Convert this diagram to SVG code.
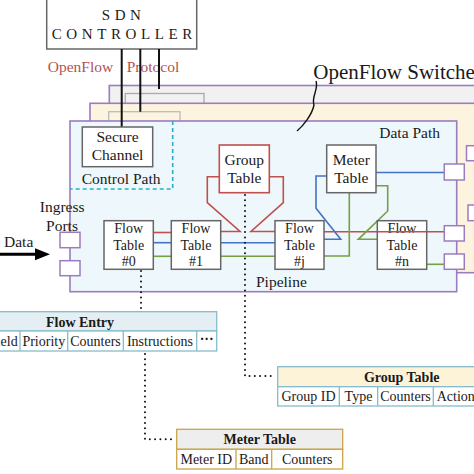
<svg xmlns="http://www.w3.org/2000/svg" width="474" height="474" viewBox="0 0 474 474">
<defs>
<style>
text{font-family:"Liberation Serif","Times New Roman",serif;fill:#1a1a1a}
.lbl{font-size:15.5px}
.ft{font-size:14px}
.tb{font-size:14px}
.b{font-weight:bold}
.mid{text-anchor:middle}
.layer{stroke:#9a7cbf;stroke-width:1.6}
.box{fill:#fff;stroke:#666;stroke-width:1.5}
.port{fill:#fff;stroke:#9a7cbf;stroke-width:1.5}
.red{fill:none;stroke:#c0504d;stroke-width:1.6}
.blue{fill:none;stroke:#4472c4;stroke-width:1.6}
.green{fill:none;stroke:#77a043;stroke-width:1.6}
.dot{fill:none;stroke:#111;stroke-width:2;stroke-dasharray:0 5.3;stroke-linecap:round}
.ctl{stroke:#111;stroke-width:2}
</style>
</defs>
<rect width="474" height="474" fill="#fff"/>

<g id="switch-back">
<rect class="layer" x="109.3" y="85.5" width="400" height="170" fill="#f1f1f1"/>
<rect x="125.3" y="93.5" width="78.7" height="30" fill="none" stroke="#aaa" stroke-width="1.3"/>
</g>
<g id="switch-mid">
<rect class="layer" x="90" y="103.3" width="387" height="169.4" fill="#fdf4e0"/>
<rect x="108.7" y="111.7" width="71.3" height="30" fill="none" stroke="#bbb" stroke-width="1.3"/>
<rect class="port" x="466.5" y="145.7" width="20" height="15"/>
<rect class="port" x="468" y="205" width="20" height="15.7"/>
</g>
<g id="switch-front">
<rect class="layer" x="70" y="121" width="386.7" height="170.7" fill="#eef7fb"/>
<path d="M172.7,121 V189 H70" fill="none" stroke="#2aaecb" stroke-width="1.6" stroke-dasharray="4 3"/>
<text class="lbl" x="81.7" y="184.2">Control Path</text>
<text class="lbl" x="379.3" y="137.5">Data Path</text>
<text class="lbl" x="256" y="287">Pipeline</text>
</g>

<g id="sdn-controller">
<rect x="46.7" y="-1" width="150" height="50" fill="#fff" stroke="#666" stroke-width="1.5"/>
<text x="101.7" y="20" style="font-size:15px;letter-spacing:4.6px">SDN</text>
<text x="51.7" y="38.5" style="font-size:15px;letter-spacing:4.6px">CONTROLLER</text>
</g>
<text class="lbl" x="47.7" y="71.5" style="fill:#b5524e">OpenFlow</text>
<text class="lbl" x="126.7" y="71.5" style="fill:#b5524e">Protocol</text>

<g id="switches-label">
<text x="313.3" y="79" style="font-size:21px">OpenFlow Switches</text>
<path d="M316,81 C319,89 311,97 314,105 C312,115 303,126 297,131" fill="none" stroke="#111" stroke-width="1.4"/>
</g>

<g id="connectors">
<line class="ctl" x1="121.7" y1="49" x2="121.7" y2="127"/>
<line class="ctl" x1="140.3" y1="49" x2="140.3" y2="111.7"/>
<line class="ctl" x1="159" y1="49" x2="159" y2="89"/>
<!-- red -->
<line class="red" x1="153.3" y1="232.5" x2="171.3" y2="232.5"/>
<path class="red" d="M220.7,231.5 H240 L207.3,202.7 V176.7 H219.3"/>
<path class="red" d="M269.3,176.7 H283.3 V202.7 L251,231.5 H275"/>
<path class="red" d="M324,231.7 H444.3"/>
<!-- blue -->
<line class="blue" x1="153.3" y1="242.7" x2="171.3" y2="242.7"/>
<line class="blue" x1="220.7" y1="242.7" x2="275" y2="242.7"/>
<path class="blue" d="M324,239.3 H340.7 L316,208.3 V176 H326.7"/>
<line class="blue" x1="376" y1="172.5" x2="444.3" y2="172.5"/>
<!-- green -->
<line class="green" x1="153.3" y1="256.3" x2="171.3" y2="256.3"/>
<line class="green" x1="220.7" y1="256.3" x2="275" y2="256.3"/>
<path class="green" d="M324,256 H349.3 V192.7"/>
<path class="green" d="M376,185.7 H387.7 V211 L358.3,239.3 H377.3"/>
<line class="green" x1="426.7" y1="264.3" x2="444.3" y2="264.3"/>
<!-- data arrow -->
<line x1="0" y1="254.3" x2="38" y2="254.3" stroke="#000" stroke-width="3"/>
<polygon points="35,248.3 50,254.3 35,260.3" fill="#000"/>
<!-- dotted -->
<path class="dot" d="M141,271 V311"/>
<path class="dot" d="M145,354 V439.3 H175"/>
<path class="dot" d="M245,195 V376 H276"/>
</g>

<g id="secure-channel">
<rect class="box" x="82.3" y="127" width="70.4" height="39.7"/>
<text class="lbl mid" x="117.5" y="142.2">Secure</text>
<text class="lbl mid" x="117.5" y="160.2">Channel</text>
</g>
<g id="group-table">
<rect x="219.3" y="145" width="50" height="47.7" fill="#fff" stroke="#c0504d" stroke-width="1.6"/>
<text class="lbl mid" x="244.3" y="165.2">Group</text>
<text class="lbl mid" x="244.3" y="183.2">Table</text>
</g>
<g id="meter-table">
<rect class="box" x="326.7" y="145" width="49.3" height="47.7"/>
<text class="lbl mid" x="351.3" y="165.2">Meter</text>
<text class="lbl mid" x="351.3" y="183.2">Table</text>
</g>
<g id="flow-table-0">
<rect class="box" x="104" y="220.7" width="49.3" height="48.6"/>
<text class="ft mid" x="128.7" y="233">Flow</text>
<text class="ft mid" x="128.7" y="249.7">Table</text>
<text class="ft mid" x="128.7" y="266.4">#0</text>
</g>
<g id="flow-table-1">
<rect class="box" x="171.3" y="220.7" width="49.4" height="48.6"/>
<text class="ft mid" x="196" y="233">Flow</text>
<text class="ft mid" x="196" y="249.7">Table</text>
<text class="ft mid" x="196" y="266.4">#1</text>
</g>
<g id="flow-table-j">
<rect class="box" x="275" y="220.7" width="49" height="48.6"/>
<text class="ft mid" x="299.5" y="233">Flow</text>
<text class="ft mid" x="299.5" y="249.7">Table</text>
<text class="ft mid" x="299.5" y="266.4">#j</text>
</g>
<g id="flow-table-n">
<rect class="box" x="377.3" y="220.7" width="49.4" height="48.6"/>
<text class="ft mid" x="402" y="233">Flow</text>
<text class="ft mid" x="402" y="249.7">Table</text>
<text class="ft mid" x="402" y="266.4">#n</text>
</g>
<line class="red" x1="377.3" y1="231.7" x2="426.7" y2="231.7"/>

<g id="ports">
<rect class="port" x="60" y="232.3" width="20" height="15.4"/>
<rect class="port" x="60" y="260.7" width="20" height="15"/>
<rect class="port" x="444.3" y="164" width="20" height="16"/>
<rect class="port" x="444.3" y="225.7" width="20" height="15.3"/>
<rect class="port" x="444.3" y="254" width="20" height="15.3"/>
<text class="lbl mid" x="62.2" y="212">Ingress</text>
<text class="lbl mid" x="62" y="231.2">Ports</text>
<text class="lbl" x="4" y="247">Data</text>
</g>

<g id="flow-entry">
<rect x="-57" y="311.7" width="273.7" height="19.3" fill="#e5eef2" stroke="#86bccb" stroke-width="1.3"/>
<rect x="-57" y="331" width="273.7" height="20" fill="#fff" stroke="#86bccb" stroke-width="1.3"/>
<path d="M20,331 V351 M67.7,331 V351 M123.3,331 V351 M196.7,331 V351" stroke="#86bccb" stroke-width="1.3"/>
<text class="tb b mid" x="80" y="326.5">Flow Entry</text>
<text class="tb" x="17.7" y="346" text-anchor="end">Match Field</text>
<text class="tb mid" x="43.8" y="346">Priority</text>
<text class="tb mid" x="95.5" y="346">Counters</text>
<text class="tb mid" x="160" y="346">Instructions</text>
<text class="tb b mid" x="206.7" y="344">···</text>
</g>

<g id="group-table-entry">
<rect x="277.7" y="366.7" width="248" height="20" fill="#fdf3d9" stroke="#86bccb" stroke-width="1.3"/>
<rect x="277.7" y="386.7" width="248" height="19.3" fill="#fff" stroke="#86bccb" stroke-width="1.3"/>
<path d="M339.3,386.7 V406 M377.7,386.7 V406 M433.3,386.7 V406" stroke="#86bccb" stroke-width="1.3"/>
<text class="tb b mid" x="401.7" y="381.5">Group Table</text>
<text class="tb mid" x="308.5" y="401">Group ID</text>
<text class="tb mid" x="358.5" y="401">Type</text>
<text class="tb mid" x="405.5" y="401">Counters</text>
<text class="tb" x="436.7" y="401">Actions</text>
</g>

<g id="meter-table-entry">
<rect x="176.7" y="429.3" width="166" height="20" fill="#eeeeee" stroke="#c9a54a" stroke-width="1.3"/>
<rect x="176.7" y="449.3" width="166" height="19.7" fill="#fff" stroke="#c9a54a" stroke-width="1.3"/>
<path d="M236,449.3 V469 M271.7,449.3 V469" stroke="#c9a54a" stroke-width="1.3"/>
<text class="tb b mid" x="259.7" y="444">Meter Table</text>
<text class="tb mid" x="206.3" y="464">Meter ID</text>
<text class="tb mid" x="253.8" y="464">Band</text>
<text class="tb mid" x="307.3" y="464">Counters</text>
</g>
</svg>
